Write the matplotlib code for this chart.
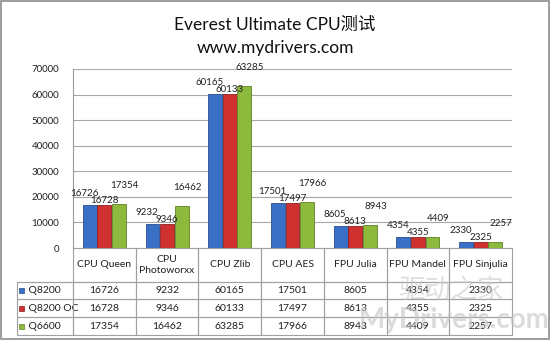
"""
Everest Ultimate CPU 测试 - 柱状图 + 数据表
"""
import matplotlib
import matplotlib.pyplot as plt
import numpy as np
from matplotlib.patches import Rectangle
from matplotlib.table import Table

matplotlib.use('Agg')
plt.rcParams['font.family'] = ['Lato', 'Noto Sans CJK SC', 'DejaVu Sans']

categories = ['CPU Queen', 'CPU\nPhotoworxx', 'CPU Zlib', 'CPU AES',
              'FPU Julia', 'FPU Mandel', 'FPU Sinjulia']
series = ['Q8200', 'Q8200 OC', 'Q6600']
q8200 = [16726, 9232, 60165, 17501, 8605, 4354, 2330]
q8200_oc = [16728, 9346, 60133, 17497, 8613, 4355, 2325]
q6600 = [17354, 16462, 63285, 17966, 8943, 4409, 2257]
y_ticks = [0, 10000, 20000, 30000, 40000, 50000, 60000, 70000]

colors = ['#3a6fc6', '#cf3131', '#8dba3c']
edges = ['#274e8e', '#8e1f1f', '#5f8226']
label_dy = [5, 0, 10]      # 数据标签错开一点, 避免重叠 (points)
label_dx = [-4, 0, 4]

fig = plt.figure(figsize=(5.5, 3.4), dpi=100)
ax = fig.add_axes([73 / 550, 1 - 248 / 340, 439 / 550, 179 / 340])

x = np.arange(len(categories))
w = 0.233
for i, vals in enumerate([q8200, q8200_oc, q6600]):
    pos = x + (i - 1) * w
    ax.bar(pos, vals, w * 0.95, color=colors[i], edgecolor=edges[i], linewidth=0.6, zorder=3)
    for px, v in zip(pos, vals):
        ax.annotate(str(v), (px, v), xytext=(label_dx[i], label_dy[i]), textcoords='offset points',
                    ha='center', va='bottom', fontsize=7, color='#202020', zorder=5)

ax.set_xlim(-0.5, len(categories) - 0.5)
ax.set_ylim(0, 70000)
ax.set_yticks(y_ticks)
ax.set_yticklabels([str(t) for t in y_ticks], fontsize=7, color='#202020')
ax.tick_params(axis='y', length=0, pad=10)
ax.set_xticks([])
ax.grid(axis='y', color='#a8a8a8', linewidth=0.8, zorder=0)
for s in ['top', 'right', 'bottom']:
    ax.spines[s].set_visible(False)
ax.spines['left'].set_color('#9a9a9a')

# 数据表, 第 0 列放图例名称
lab_w = 56 / 62.7
tb = Table(ax, bbox=[-56 / 439, -87 / 179, 495 / 439, 87 / 179])
tb.auto_set_font_size(False)
tb.add_cell(0, 0, width=lab_w, height=1.9, text='', loc='left')
tb[0, 0].visible_edges = 'B'
for j, name in enumerate(categories):
    tb.add_cell(0, j + 1, width=1.0, height=1.9, text=name, loc='center')
for i, row in enumerate([q8200, q8200_oc, q6600]):
    c = tb.add_cell(i + 1, 0, width=lab_w, height=1.0, text='    ' + series[i], loc='left')
    c.PAD = 0.02
    for j, v in enumerate(row):
        tb.add_cell(i + 1, j + 1, width=1.0, height=1.0, text=str(v), loc='center')
tb.set_fontsize(7.5)
for cell in tb.get_celld().values():
    cell.set_edgecolor('#a0a0a0')
    cell.set_linewidth(0.8)
    cell.set_facecolor('none')
    cell.get_text().set_color('#202020')
ax.add_table(tb)

# 图例小方块
row_top = -34 / 179
row_h = 53 / 179 / 3
for i in range(3):
    yc = row_top - (i + 0.5) * row_h
    ax.add_patch(Rectangle((-54 / 439, yc - 2.5 / 179), 5 / 439, 5 / 179, transform=ax.transAxes,
                           facecolor=colors[i], edgecolor=edges[i], linewidth=0.5, clip_on=False, zorder=6))

fig.text(0.5, 1 - 25 / 340, 'Everest Ultimate CPU测试', ha='center', va='center', fontsize=12.5, color='#101010')
fig.text(0.5, 1 - 48 / 340, 'www.mydrivers.com', ha='center', va='center', fontsize=12.5, color='#101010')

# 水印
fig.text(0.82, 1 - 290 / 340, '驱动之家', ha='center', va='center', fontsize=19, color='#c8c8c8', alpha=0.6, zorder=10)
fig.text(0.825, 1 - 320 / 340, 'MyDrivers.com', ha='center', va='center', fontsize=20, fontweight='bold',
         color='#c4c4c4', alpha=0.6, zorder=10)

# 外框
fig.patches.append(Rectangle((0.002, 0.003), 0.996, 0.994, transform=fig.transFigure, fill=False,
                             edgecolor='#8c8c8c', linewidth=1.2))

fig.savefig('out.png', dpi=100)
